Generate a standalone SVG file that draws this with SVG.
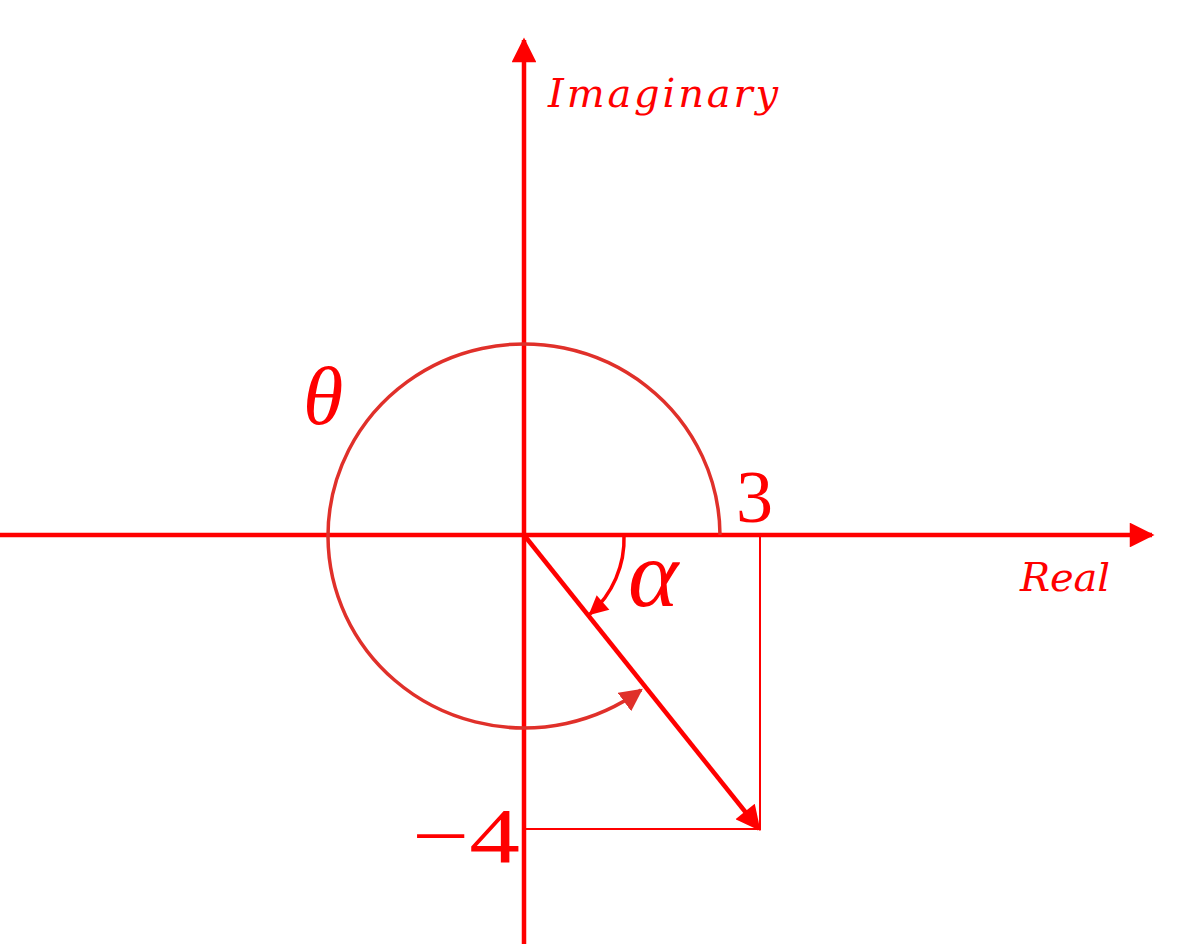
<svg xmlns="http://www.w3.org/2000/svg" width="1182" height="944" viewBox="0 0 1182 944">
<style>
.ax{stroke:#ff0000;stroke-width:4.5;fill:none}
.arc{stroke:#e0302a;stroke-width:3.5;fill:none}
.thin{stroke:#ff0000;stroke-width:2;fill:none}
.lab{fill:#ff0000;font-family:"DejaVu Serif","Liberation Serif",serif;font-style:italic;letter-spacing:2px}
.math{fill:#ff0000;font-family:"Liberation Serif",serif}
</style>
<defs>
<marker id="ah" viewBox="0 0 10 10" refX="9" refY="5" markerWidth="6.5" markerHeight="5.5" orient="auto" markerUnits="strokeWidth"><path d="M0,0L10,5L0,10z" fill="#ff0000"/></marker>
<marker id="ah2" viewBox="0 0 10 10" refX="9" refY="5" markerWidth="6.5" markerHeight="6.5" orient="auto" markerUnits="strokeWidth"><path d="M0,0L10,5L0,10z" fill="#e0302a"/></marker>
</defs>
<g id="connectors">
<line class="ax" x1="0" y1="535" x2="1152" y2="535" marker-end="url(#ah)"/>
<line class="ax" x1="524" y1="944" x2="524" y2="40" marker-end="url(#ah)"/>
<line class="ax" x1="524" y1="535" x2="759" y2="829" marker-end="url(#ah)"/>
<path class="thin" d="M760,535V829H524"/>
<path class="arc" d="M720,535A196,192 0 1 0 641,690" marker-end="url(#ah2)"/>
<path class="ax" style="stroke-width:3.5" d="M624,535A100,100 0 0 1 590,614" marker-end="url(#ah)"/>
</g>
<g id="labels">
<text class="lab" x="548" y="107" font-size="40" textLength="232">Imaginary</text>
<text class="lab" x="1020" y="591" font-size="40" textLength="92">Real</text>
<text class="math" x="303" y="424" font-size="82" font-style="italic">θ</text>
<text class="math" x="736" y="522" font-size="74">3</text>
<text class="math" x="412" y="862" font-size="78" textLength="108" lengthAdjust="spacingAndGlyphs">−4</text>
<text class="math" x="628" y="606" font-size="96" font-style="italic">α</text>
</g>
</svg>
